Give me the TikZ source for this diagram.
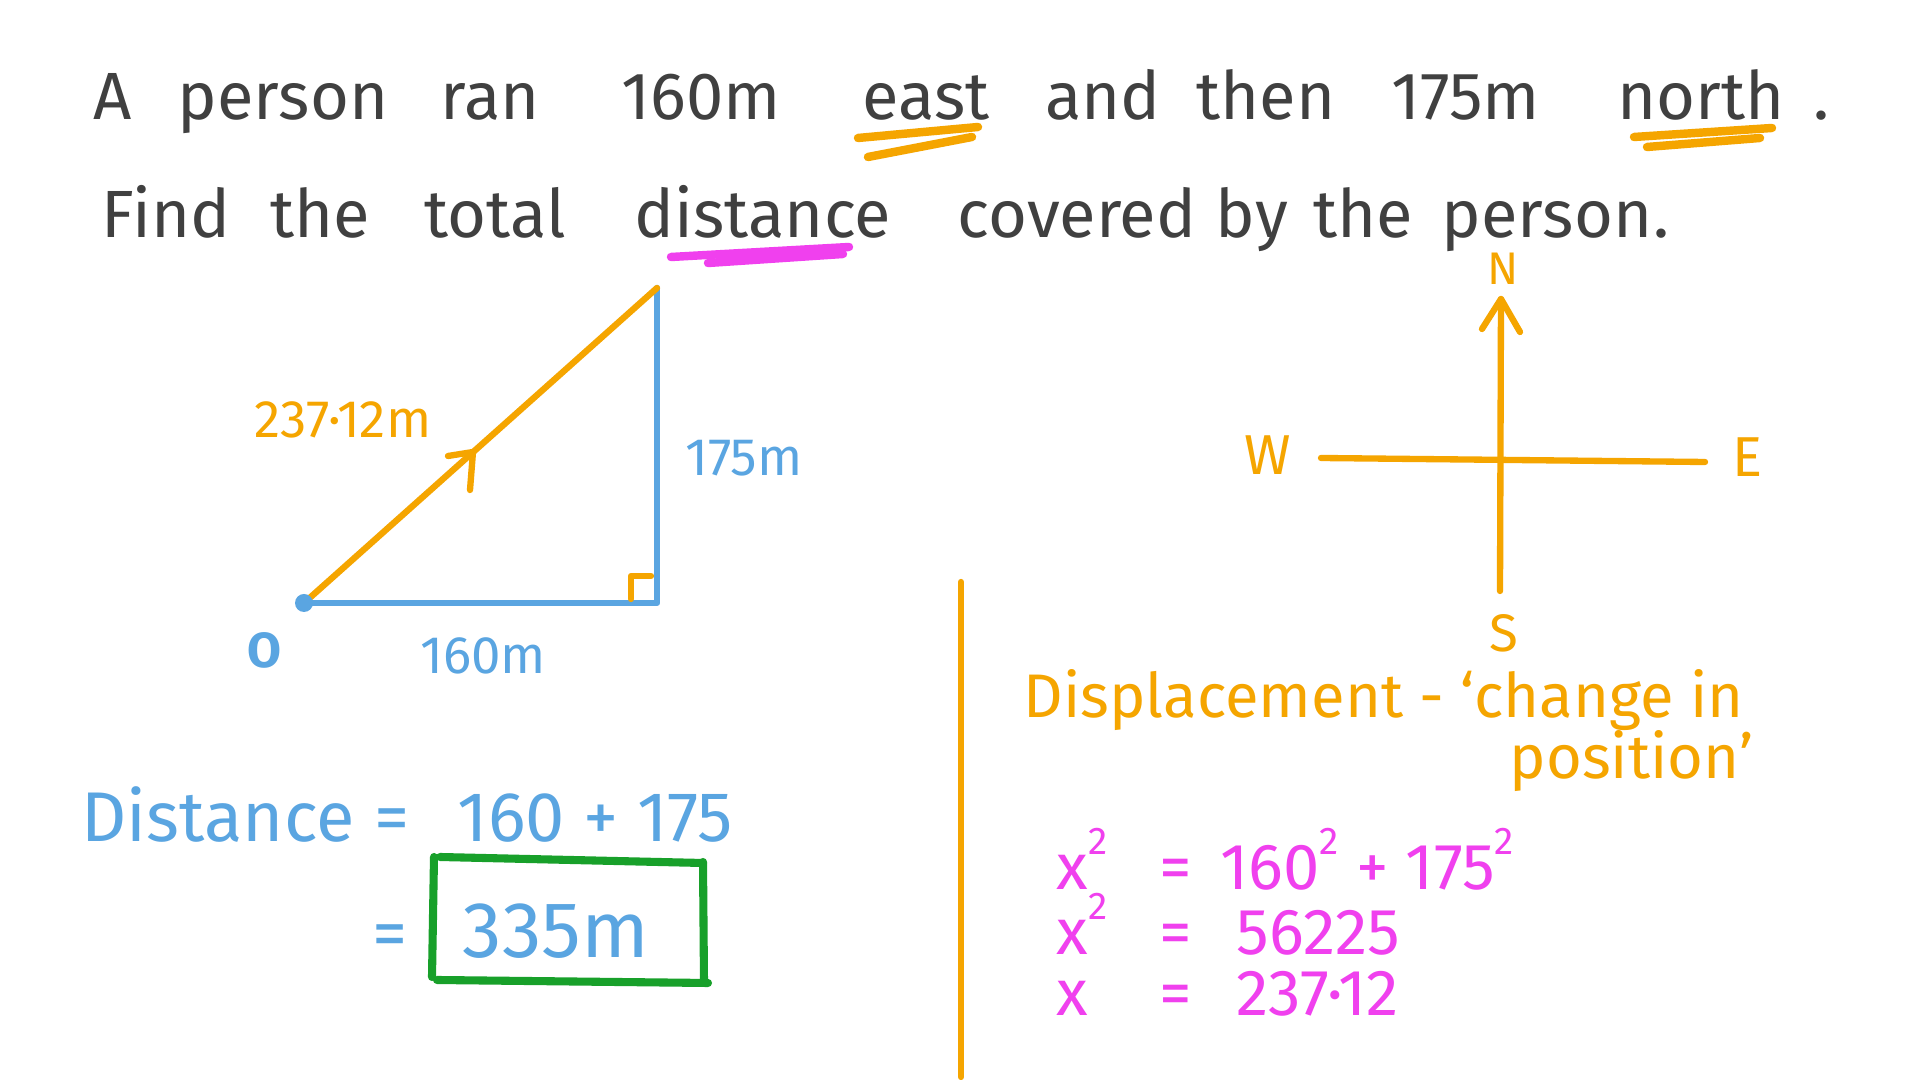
\documentclass[tikz,border=0pt]{standalone}
\usepackage{fontspec}
\setmainfont{Fira Sans}
\definecolor{ink}{HTML}{404040}
\definecolor{orng}{HTML}{F5A500}
\definecolor{blu}{HTML}{5AA5E1}
\definecolor{mag}{HTML}{F040EE}
\definecolor{grn}{HTML}{18A02A}
\newcommand\sqr{\raisebox{0.55em}{\fontsize{11}{12}\selectfont 2}}
\begin{document}
\begin{tikzpicture}[x=0.01cm,y=-0.01cm,
  pen/.style={line width=1.8pt, line cap=round, line join=round},
  uline/.style={line width=2.4pt, line cap=round},
  ttl/.style={text=ink, font=\fontsize{19}{22}\selectfont, anchor=base, inner sep=0pt},
  lbl/.style={font=\fontsize{15}{17}\selectfont, anchor=base, inner sep=0pt},
  cmp/.style={text=orng, font=\fontsize{15}{17}\selectfont, inner sep=0pt},
  eqn/.style={text=mag, font=\fontsize{18.5}{20}\selectfont, anchor=base west, inner sep=0pt},
  dst/.style={text=blu, font=\fontsize{20}{24}\selectfont, anchor=base west, inner sep=0pt}]
\fill[white] (0,0) rectangle (1920,1080);
\useasboundingbox (0,0) rectangle (1920,1080);
% title line 1
\node[ttl] (a1) at (113,120) {A};
\node[ttl] (a2) at (283,120) {person};
\node[ttl] (a3) at (490,120) {ran};
\node[ttl] (a4) at (701,120) {160m};
\node[ttl] (a5) at (926,120) {east};
\node[ttl] (a6) at (1103,120) {and};
\node[ttl] (a7) at (1266,120) {then};
\node[ttl] (a8) at (1466,120) {175m};
\node[ttl] (a9) at (1701,120) {north};
\node[ttl] (a10) at (1822,120) {.};
% title line 2
\node[ttl] (b1) at (166,238) {Find};
\node[ttl] (b2) at (320,238) {the};
\node[ttl] (b3) at (495,238) {total};
\node[ttl] (b4) at (763,238) {distance};
\node[ttl] (b5) at (1077,238) {covered};
\node[ttl] (b6) at (1252,238) {by};
\node[ttl] (b7) at (1363,238) {the};
\node[ttl] (b8) at (1547,238) {person};
\node[ttl] (b9) at (1662,238) {.};
% underlines
\draw[uline,orng] (858,138) -- (978,127);
\draw[uline,orng] (868,157) -- (972,137);
\draw[uline,orng] (1634,137) -- (1772,128);
\draw[uline,orng] (1647,147) -- (1760,138);
\draw[uline,mag] (671,257) -- (849,247);
\draw[uline,mag] (708,263) -- (843,254);
% triangle
\coordinate (O) at (304,603);
\coordinate (R) at (657,603);
\coordinate (T) at (657,288);
\draw[pen,blu] (O) -- (R) -- (T);
\draw[pen,orng] (O) -- (T);
\fill[blu] (O) circle (9);
\draw[pen,orng] (631,599) -- (631,576) -- (651,576);
\coordinate (H) at (473,452);
\draw[pen,orng] (448,456) -- (H) -- (470,490);
\node[lbl,text=orng] (hyp) at (343,438) {237·12m};
\node[lbl,text=blu] (ver) at (744,476) {175m};
\node[lbl,text=blu] (hor) at (483,674) {160m};
\node[text=blu, font=\fontsize{14}{15}\selectfont\bfseries, inner sep=0pt] (olbl) at (265,650) {O};
% compass
\coordinate (cN) at (1501,299);
\coordinate (cS) at (1500,591);
\coordinate (cW) at (1321,458);
\coordinate (cE) at (1705,462);
\draw[pen,orng] (cS) -- (cN);
\draw[pen,orng] (cW) -- (cE);
\draw[pen,orng] (1482,329) -- (cN) -- (1520,332);
\node[cmp,font=\fontsize{13}{14}\selectfont] (nN) at (1503,269) {N};
\node[cmp,font=\fontsize{16}{17}\selectfont] (nW) at (1268,455) {W};
\node[cmp,font=\fontsize{16}{17}\selectfont] (nE) at (1748,457) {E};
\node[cmp] (nS) at (1504,633) {S};
% divider
\coordinate (d1) at (961,582);
\coordinate (d2) at (961,1077);
\draw[pen,orng] (d1) -- (d2);
% displacement
\node[text=orng, font=\fontsize{17.5}{20}\selectfont, anchor=base west, inner sep=0pt] (disp) at (1023,718) {Displacement - ‘change in};
\node[text=orng, font=\fontsize{17.5}{20}\selectfont, anchor=base east, inner sep=0pt] (pos) at (1754,779) {position’};
% equations
\node[eqn] (e1l) at (1056,890) {x\sqr};
\node[eqn,anchor=base] (e1m) at (1176,890) {=};
\node[eqn] (e1r) at (1220,890) {160\sqr{} + 175\sqr};
\node[eqn] (e2l) at (1056,955) {x\sqr};
\node[eqn,anchor=base] (e2m) at (1176,955) {=};
\node[eqn] (e2r) at (1236,955) {56225};
\node[eqn] (e3l) at (1056,1016) {x};
\node[eqn,anchor=base] (e3m) at (1176,1016) {=};
\node[eqn] (e3r) at (1236,1016) {237·12};
% distance
\node[dst] (dl) at (81,842) {Distance};
\node[dst,anchor=base] (dm) at (392,842) {=};
\node[dst] (dr) at (457,842) {160 + 175};
\node[dst,anchor=base] (dm2) at (390,958) {=};
\node[dst,font=\fontsize{22.5}{24}\selectfont] (ans) at (462,958) {335m};
\draw[line width=2.3pt,grn,line cap=round] (440,857) -- (703,863);
\draw[line width=2.3pt,grn,line cap=round] (703,862) -- (704,982);
\draw[line width=2.3pt,grn,line cap=round] (437,980) -- (708,983);
\draw[line width=2.3pt,grn,line cap=round] (434,857) -- (432,977);
\end{tikzpicture}
\end{document}
